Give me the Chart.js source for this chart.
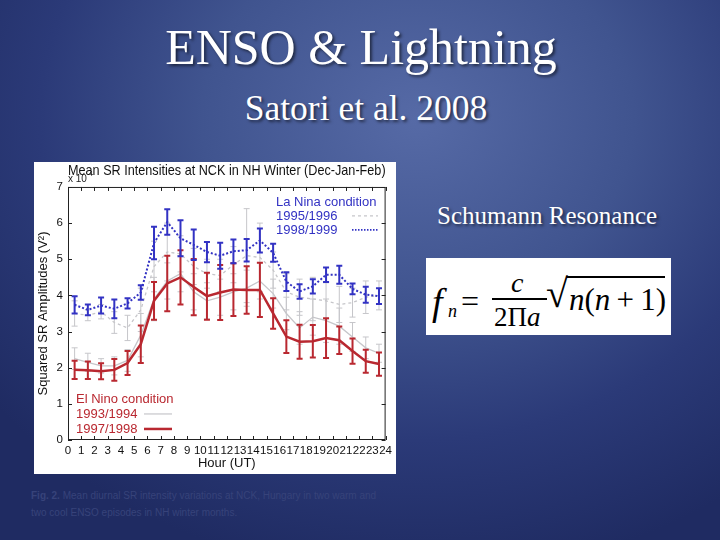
<!DOCTYPE html>
<html>
<head>
<meta charset="utf-8">
<script src="https://cdn.jsdelivr.net/npm/chart.js@4.4.1/dist/chart.umd.min.js"></script>
<style>
  html, body { margin: 0; padding: 0; }
  body {
    width: 720px; height: 540px; overflow: hidden; position: relative;
    background: radial-gradient(ellipse 75% 85% at 58% 22%, #566aa6 0%, #40548f 40%, #2b3a78 70%, #1f2b62 100%);
    font-family: "Liberation Serif", "DejaVu Serif", serif;
    color: #fff;
  }
  .title {
    position: absolute; left: 0; width: 722px; top: 18px; text-align: center;
    font-size: 50px; text-shadow: 2px 2px 3px rgba(0,0,0,0.55);
  }
  .subtitle {
    position: absolute; left: 0; width: 732px; top: 87px; text-align: center;
    font-size: 35.5px; text-shadow: 2px 2px 3px rgba(0,0,0,0.55);
  }
  #chartBox {
    position: absolute; left: 34px; top: 162px; width: 362px; height: 312px; background: #fff;
  }
  .caption {
    position: absolute; left: 31px; top: 487px; font-family: "Liberation Sans", sans-serif;
    font-size: 10px; line-height: 17px; color: #37437a; white-space: nowrap;
  }
  .schumann {
    position: absolute; left: 437px; top: 202px; font-size: 25px;
    text-shadow: 2px 2px 3px rgba(0,0,0,0.5);
  }
  .formula {
    position: absolute; left: 426px; top: 258px; width: 245px; height: 77px; background: #fff;
    color: #000; font-family: "Liberation Serif", serif;
  }
  .formula span { position: absolute; line-height: 1; white-space: nowrap; }
  .formula .bar { position: absolute; background: #000; }
</style>
</head>
<body>
<div class="title">ENSO &amp; Lightning</div>
<div class="subtitle">Satori et al. 2008</div>

<div id="chartBox"><canvas id="srChart" width="362" height="312"></canvas></div>

<div class="caption"><b>Fig. 2.</b> Mean diurnal SR intensity variations at NCK, Hungary in two warm and<br>two cool ENSO episodes in NH winter months.</div>

<div class="schumann">Schumann Resonance</div>

<div class="formula">
  <span style="left:6px; top:25px; font-size:38px; font-style:italic;">f</span>
  <span style="left:22px; top:44px; font-size:18px; font-style:italic;">n</span>
  <span style="left:35px; top:27px; font-size:32px;">=</span>
  <span style="left:85px; top:11px; font-size:28px; font-style:italic;">c</span>
  <div class="bar" style="left:66px; top:40px; width:55px; height:1.5px;"></div>
  <span style="left:68px; top:46px; font-size:27px;">2Π<i>a</i></span>
  <span style="left:120px; top:16px; font-size:40px;">√</span>
  <div class="bar" style="left:141px; top:18px; width:98px; height:1.5px;"></div>
  <span style="left:143px; top:26px; font-size:31px;"><i>n</i>(<i>n</i>&thinsp;+&thinsp;1)</span>
</div>

<script>
// hours (UT), bin centres
const hours = [0.5, 1.5, 2.5, 3.5, 4.5, 5.5, 6.5, 7.5, 8.5, 9.5, 10.5, 11.5,
  12.5, 13.5, 14.5, 15.5, 16.5, 17.5, 18.5, 19.5, 20.5, 21.5, 22.5, 23.5];

// La Nina 1998/1999 (blue dotted)
const laNina9899 = [3.74, 3.60, 3.72, 3.63, 3.78, 4.08, 5.45, 6.03, 5.58, 5.40, 5.20, 5.10,
  5.22, 5.25, 5.52, 5.18, 4.38, 4.11, 4.25, 4.57, 4.57, 4.18, 4.02, 3.98];
const laNina9899Err = [0.24, 0.15, 0.22, 0.26, 0.14, 0.20, 0.45, 0.35, 0.50, 0.42, 0.28, 0.36,
  0.33, 0.31, 0.33, 0.25, 0.26, 0.20, 0.20, 0.20, 0.25, 0.15, 0.22, 0.22];

// La Nina 1995/1996 (grey dashed)
const laNina9596 = [3.50, 3.45, 3.55, 3.25, 3.10, 3.60, 4.80, 5.20, 5.15, 4.80, 4.60, 4.55,
  4.85, 5.10, 5.05, 4.70, 4.10, 3.95, 3.90, 3.85, 3.75, 3.80, 3.95, 4.00];
const laNina9596Err = [0.35, 0.15, 0.20, 0.30, 0.35, 0.60, 0.70, 0.80, 0.50, 0.50, 0.40, 0.45,
  0.50, 1.30, 0.95, 0.50, 0.50, 0.50, 0.60, 0.50, 0.50, 0.40, 0.45, 0.40];

// El Nino 1997/1998 (red solid)
const elNino9798 = [1.94, 1.93, 1.90, 1.94, 2.13, 2.65, 3.85, 4.33, 4.50, 4.23, 3.98, 4.08,
  4.16, 4.15, 4.15, 3.50, 2.86, 2.72, 2.73, 2.82, 2.76, 2.46, 2.18, 2.10];
const elNino9798Err = [0.25, 0.24, 0.22, 0.30, 0.33, 0.52, 0.52, 0.77, 0.75, 0.78, 0.65, 0.76,
  0.73, 0.66, 0.75, 0.42, 0.45, 0.47, 0.45, 0.55, 0.38, 0.35, 0.32, 0.32];

// El Nino 1993/1994 (grey solid)
const elNino9394 = [2.25, 2.15, 2.05, 2.05, 2.20, 2.90, 3.90, 4.40, 4.60, 4.10, 3.85, 3.95,
  4.10, 4.20, 4.40, 4.05, 3.50, 3.10, 3.40, 3.30, 3.15, 2.85, 2.55, 2.40];
const elNino9394Err = [0.30, 0.25, 0.20, 0.25, 0.30, 0.60, 0.60, 0.50, 0.50, 0.50, 0.50, 0.50,
  0.50, 0.50, 0.50, 0.40, 0.45, 0.45, 0.50, 0.60, 0.50, 0.40, 0.30, 0.25];

const xTicks = [0, 24];
const yTicks = [0, 7];

const BLUE = "rgb(50, 50, 195)";
const RED = "rgb(185, 40, 48)";
const GREY = "rgb(198, 198, 202)";
const SANS = "'Liberation Sans', Arial, sans-serif";

function points(vals) {
  return hours.map((h, i) => ({ x: h, y: vals[i] }));
}

// vertical error bars with caps, drawn right after each line
const errorBars = {
  id: "errorBars",
  afterDatasetDraw(chart, args) {
    const ds = chart.data.datasets[args.index];
    if (!ds.errors) return;
    const { ctx, scales: { x, y } } = chart;
    ctx.save();
    ctx.strokeStyle = ds.errColor;
    ctx.lineWidth = ds.errWidth;
    ctx.setLineDash([]);
    ds.data.forEach((p, i) => {
      const px = x.getPixelForValue(p.x);
      const top = y.getPixelForValue(p.y + ds.errors[i]);
      const bot = y.getPixelForValue(p.y - ds.errors[i]);
      ctx.beginPath();
      ctx.moveTo(px, top);
      ctx.lineTo(px, bot);
      ctx.moveTo(px - 3, top);
      ctx.lineTo(px + 3, top);
      ctx.moveTo(px - 3, bot);
      ctx.lineTo(px + 3, bot);
      ctx.stroke();
    });
    ctx.restore();
  },
};

// matlab style box, inward ticks, exponent and the two legends
const frame = {
  id: "frame",
  afterDraw(chart) {
    const { ctx, chartArea: ca, scales: { x, y } } = chart;
    ctx.save();
    ctx.strokeStyle = "#222";
    ctx.lineWidth = 1;
    ctx.strokeRect(ca.left + 0.5, ca.top + 0.5, ca.width - 1, ca.height - 1);
    ctx.beginPath();
    for (let h = xTicks[0]; h <= xTicks[1]; h++) {
      const px = Math.round(x.getPixelForValue(h)) + 0.5;
      ctx.moveTo(px, ca.bottom); ctx.lineTo(px, ca.bottom - 4);
      ctx.moveTo(px, ca.top); ctx.lineTo(px, ca.top + 4);
    }
    for (let v = yTicks[0]; v <= yTicks[1]; v++) {
      const py = Math.round(y.getPixelForValue(v)) + 0.5;
      ctx.moveTo(ca.left, py); ctx.lineTo(ca.left + 4, py);
      ctx.moveTo(ca.right, py); ctx.lineTo(ca.right - 4, py);
    }
    ctx.stroke();

    ctx.fillStyle = "#222";
    ctx.font = "10px " + SANS;
    ctx.fillText("x 10", ca.left, ca.top - 5);
    ctx.font = "7px " + SANS;
    ctx.fillText("4", ca.left + 21, ca.top - 11);

    ctx.font = "13px " + SANS;
    ctx.fillStyle = BLUE;
    ctx.fillText("La Nina condition", ca.left + 208, ca.top + 19);
    ctx.fillText("1995/1996", ca.left + 208, ca.top + 33);
    ctx.fillText("1998/1999", ca.left + 208, ca.top + 47);
    ctx.fillStyle = RED;
    ctx.fillText("El Nino condition", ca.left + 8, ca.top + 216);
    ctx.fillText("1993/1994", ca.left + 8, ca.top + 231);
    ctx.fillText("1997/1998", ca.left + 8, ca.top + 246);

    const sample = (x0, x1, yy, color, width, dash) => {
      ctx.beginPath();
      ctx.strokeStyle = color;
      ctx.lineWidth = width;
      ctx.setLineDash(dash);
      ctx.moveTo(ca.left + x0, ca.top + yy);
      ctx.lineTo(ca.left + x1, ca.top + yy);
      ctx.stroke();
    };
    sample(284, 310, 29, GREY, 1.2, [3, 3]);
    sample(284, 310, 43, BLUE, 1.8, [1.5, 1.5]);
    sample(76, 104, 227, GREY, 1.2, []);
    sample(76, 104, 242, RED, 2.5, []);
    ctx.restore();
  },
};

new Chart(document.getElementById("srChart"), {
  type: "line",
  data: {
    datasets: [
      {
        label: "1998/1999", data: points(laNina9899), errors: laNina9899Err,
        borderColor: BLUE, borderWidth: 2, borderDash: [2, 2],
        errColor: BLUE, errWidth: 2,
      },
      {
        label: "1997/1998", data: points(elNino9798), errors: elNino9798Err,
        borderColor: RED, borderWidth: 2.5,
        errColor: RED, errWidth: 2,
      },
      {
        label: "1993/1994", data: points(elNino9394), errors: elNino9394Err,
        borderColor: GREY, borderWidth: 1.3,
        errColor: GREY, errWidth: 1,
      },
      {
        label: "1995/1996", data: points(laNina9596), errors: laNina9596Err,
        borderColor: GREY, borderWidth: 1.3, borderDash: [3, 3],
        errColor: GREY, errWidth: 1,
      },
    ],
  },
  options: {
    responsive: false,
    animation: false,
    layout: { padding: { right: 6, left: 0, top: 0, bottom: 0 } },
    elements: { point: { radius: 0 }, line: { tension: 0, fill: false } },
    plugins: {
      legend: { display: false },
      tooltip: { enabled: false },
      title: {
        display: true,
        fullSize: false,
        text: "Mean SR Intensities at NCK in NH Winter (Dec-Jan-Feb)",
        color: "#111",
        font: { family: SANS, size: 14.8, weight: "normal" },
        padding: { top: 0, bottom: 7.2 },
      },
    },
    scales: {
      x: {
        type: "linear",
        min: xTicks[0],
        max: xTicks[1],
        afterFit: (scale) => { scale.height = 34; },
        grid: { display: false, drawTicks: false },
        border: { display: false },
        ticks: {
          stepSize: 1, autoSkip: false, maxRotation: 0, minRotation: 0,
          padding: 4, color: "#111", font: { family: SANS, size: 11.5 },
        },
        title: {
          display: true, text: "Hour (UT)", color: "#111",
          font: { family: SANS, size: 13 }, padding: { top: 0, bottom: 3 },
        },
      },
      y: {
        min: yTicks[0],
        max: yTicks[1],
        afterFit: (scale) => { scale.width = 34; },
        grid: { display: false, drawTicks: false },
        border: { display: false },
        ticks: {
          stepSize: 1, padding: 5, color: "#111", font: { family: SANS, size: 11.5 },
        },
        title: {
          display: true, text: "Squared SR Amplitudes (V²)", color: "#111",
          font: { family: SANS, size: 13 }, padding: { top: 2, bottom: 0 },
        },
      },
    },
  },
  plugins: [errorBars, frame],
});
</script>
</body>
</html>
